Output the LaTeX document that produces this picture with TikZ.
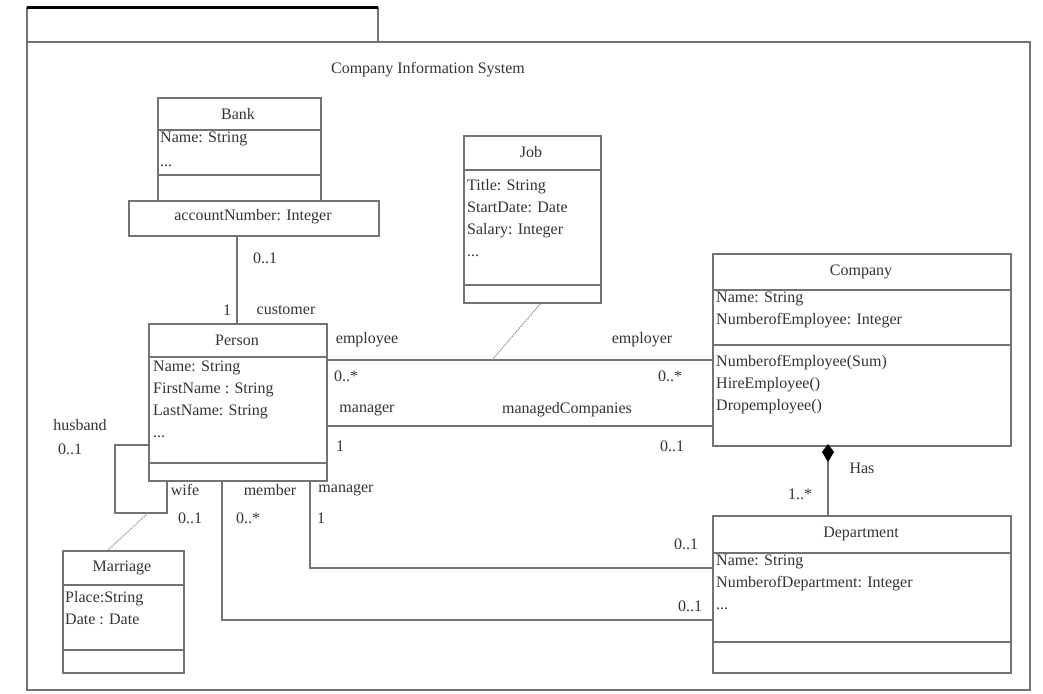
\documentclass[tikz,border=0pt]{standalone}
\usepackage{fontspec}
\setmainfont{Liberation Serif}
\begin{document}
\begin{tikzpicture}[x=1pt,y=-1pt,
  ln/.style={draw=black!55,line width=2.2pt},
  box/.style={ln,rectangle,inner sep=0pt},
  t/.style={font=\fontsize{16}{22}\selectfont,inner sep=1pt,text=black!80},
  ml/.style={t,align=left,anchor=north west},
  dsh/.style={draw=black!40,line width=1.2pt,densely dotted}]
\useasboundingbox (0,0) rectangle (1043,693);
% frame
\draw[ln] (27,42) rectangle (1030,690);
\draw[ln] (27,42) -- (27,8) -- (378,8) -- (378,42);
\draw[line width=3pt] (27,8) -- (378,8);
\node[t] (title) at (428,70) {Company Information System};
% Bank
\node[box,minimum width=163,minimum height=103,anchor=north west] (bank) at (157,97) {};
\draw[ln] (157,130) -- (320,130) (157,175) -- (320,175);
\node[t] (bankn) at (238,114) {Bank};
\node[ml] (banka) at (159,131) {Name: String\\[2pt]...};
\node[box,minimum width=250,minimum height=35,anchor=north west] (qual) at (128,200) {};
\node[t] (qualt) at (253,217) {accountNumber: Integer};
% Job
\node[box,minimum width=137,minimum height=167,anchor=north west] (job) at (463,135) {};
\draw[ln] (463,170) -- (600,170) (463,285) -- (600,285);
\node[t] (jobn) at (531,152) {Job};
\node[ml] (joba) at (466,178) {Title: String\\StartDate: Date\\Salary: Integer\\...};
% Person
\node[box,minimum width=178,minimum height=157,anchor=north west] (person) at (148,323) {};
\draw[ln] (148,357) -- (326,357) (148,463) -- (326,463);
\node[t] (personn) at (237,340) {Person};
\node[ml] (persona) at (152,360) {Name: String\\FirstName : String\\LastName: String\\...};
% Company
\node[box,minimum width=298,minimum height=192,anchor=north west] (company) at (712,253) {};
\draw[ln] (712,290) -- (1010,290) (712,345) -- (1010,345);
\node[t] (companyn) at (861,272) {Company};
\node[ml] (companya) at (715,291) {Name: String\\NumberofEmployee: Integer};
\node[ml] (companyo) at (715,354) {NumberofEmployee(Sum)\\HireEmployee()\\Dropemployee()};
% Department
\node[box,minimum width=298,minimum height=157,anchor=north west] (dept) at (712,515) {};
\draw[ln] (712,553) -- (1010,553) (712,642) -- (1010,642);
\node[t] (deptn) at (861,534) {Department};
\node[ml] (depta) at (715,554) {Name: String\\NumberofDepartment: Integer\\...};
% Marriage
\node[box,minimum width=121,minimum height=122,anchor=north west] (marr) at (62,550) {};
\draw[ln] (62,585) -- (183,585) (62,650) -- (183,650);
\node[t] (marrn) at (122,568) {Marriage};
\node[ml] (marra) at (64,590) {Place:String\\Date : Date};
% associations
\draw[ln] (qual.south -| 237,0) -- (person.north -| 237,0);
\node[t] (l1) at (265,258) {0..1};
\node[t] (l2) at (227,310) {1};
\node[t] (l3) at (286,310) {customer};
\coordinate (emp) at (492,360);
\draw[ln] (person.east |- emp) -- (company.west |- emp);
\draw[dsh] (job.south -| 540,0) -- (emp);
\node[t] (l4) at (367,340) {employee};
\node[t] (l5) at (346,376) {0..*};
\node[t] (l6) at (642,340) {employer};
\node[t] (l7) at (670,376) {0..*};
\draw[ln] (person.east |- 0,426) -- (company.west |- 0,426);
\node[t] (l8) at (367,410) {manager};
\node[t] (l9) at (340,446) {1};
\node[t] (l10) at (567,410) {managedCompanies};
\node[t] (l11) at (672,446) {0..1};
% composition
\coordinate (dtop) at (828,515);
\draw[ln] (dtop) -- (828,458);
\fill (828,444) -- (834,452) -- (828,462) -- (822,452) -- cycle;
\node[t] (l12) at (862,468) {Has};
\node[t] (l13) at (800,494) {1..*};
% marriage self association
\coordinate (m1) at (115,445);
\coordinate (m2) at (115,513);
\coordinate (m3) at (167,513);
\draw[ln] (person.west |- m1) -- (m1) -- (m2) -- (m3) -- (person.south -| m3);
\draw[dsh] (148,513) -- (marr.north -| 108,0);
\node[t] (l14) at (80,425) {husband};
\node[t] (l15) at (70,449) {0..1};
\node[t] (l16) at (185,490) {wife};
\node[t] (l17) at (190,518) {0..1};
% member
\coordinate (mb) at (222,620);
\draw[ln] (person.south -| mb) -- (mb) -- (dept.west |- mb);
\node[t] (l18) at (270,490) {member};
\node[t] (l19) at (248,518) {0..*};
\node[t] (l20) at (690,606) {0..1};
% dept manager
\coordinate (mg) at (310,568);
\draw[ln] (person.south -| mg) -- (mg) -- (dept.west |- mg);
\node[t] (l21) at (346,490) {manager};
\node[t] (l22) at (321,518) {1};
\node[t] (l23) at (686,544) {0..1};
\end{tikzpicture}
\end{document}
